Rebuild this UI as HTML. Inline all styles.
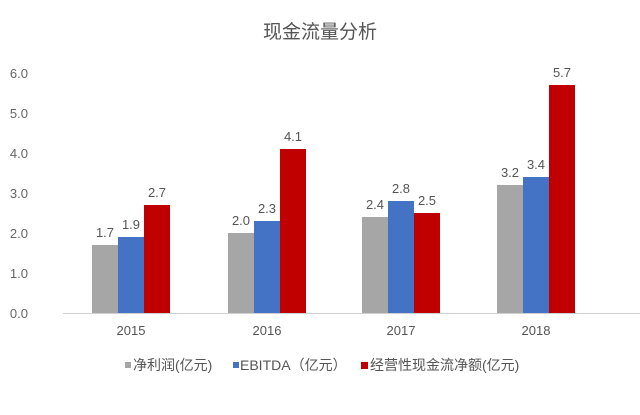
<!DOCTYPE html>
<html><head><meta charset="utf-8"><style>
body{margin:0;background:#fff}
text{font-family:"Liberation Sans","Noto Sans CJK SC",sans-serif}
</style></head><body>
<svg width="640" height="410" xmlns="http://www.w3.org/2000/svg">
<rect width="640" height="410" fill="#fff"/>
<text x="320" y="38" text-anchor="middle" font-size="19" fill="#555">现金流量分析</text>
<g font-size="13" fill="#666" text-anchor="end">
<text x="28" y="318">0.0</text><text x="28" y="278">1.0</text><text x="28" y="238">2.0</text>
<text x="28" y="198">3.0</text><text x="28" y="158">4.0</text><text x="28" y="118">5.0</text><text x="28" y="78">6.0</text>
</g>
<line x1="63" y1="313.5" x2="640" y2="313.5" stroke="#d0d0d0"/>
<g>
<rect x="92" y="245" width="26" height="68" fill="#a6a6a6"/>
<rect x="118" y="237" width="26" height="76" fill="#4472c4"/>
<rect x="144" y="205" width="26" height="108" fill="#c00000"/>
<rect x="228" y="233" width="26" height="80" fill="#a6a6a6"/>
<rect x="254" y="221" width="26" height="92" fill="#4472c4"/>
<rect x="280" y="149" width="26" height="164" fill="#c00000"/>
<rect x="362" y="217" width="26" height="96" fill="#a6a6a6"/>
<rect x="388" y="201" width="26" height="112" fill="#4472c4"/>
<rect x="414" y="213" width="26" height="100" fill="#c00000"/>
<rect x="497" y="185" width="26" height="128" fill="#a6a6a6"/>
<rect x="523" y="177" width="26" height="136" fill="#4472c4"/>
<rect x="549" y="85" width="26" height="228" fill="#c00000"/>
</g>
<g font-size="13" fill="#555" text-anchor="middle">
<text x="105" y="237">1.7</text><text x="131" y="229">1.9</text><text x="157" y="197">2.7</text>
<text x="241" y="225">2.0</text><text x="267" y="213">2.3</text><text x="293" y="141">4.1</text>
<text x="375" y="209">2.4</text><text x="401" y="193">2.8</text><text x="427" y="205">2.5</text>
<text x="510" y="177">3.2</text><text x="536" y="169">3.4</text><text x="562" y="77">5.7</text>
<text x="131" y="335">2015</text><text x="267" y="335">2016</text><text x="401" y="335">2017</text><text x="536" y="335">2018</text>
</g>
<g font-size="14" fill="#555">
<rect x="125" y="362" width="6" height="6" fill="#a6a6a6"/><text x="133" y="370">净利润(亿元)</text>
<rect x="233" y="362" width="6" height="6" fill="#4472c4"/><text x="240" y="370">EBITDA（亿元）</text>
<rect x="361" y="362" width="7" height="7" fill="#c00000"/><text x="370" y="370">经营性现金流净额(亿元)</text>
</g>
</svg>
</body></html>
